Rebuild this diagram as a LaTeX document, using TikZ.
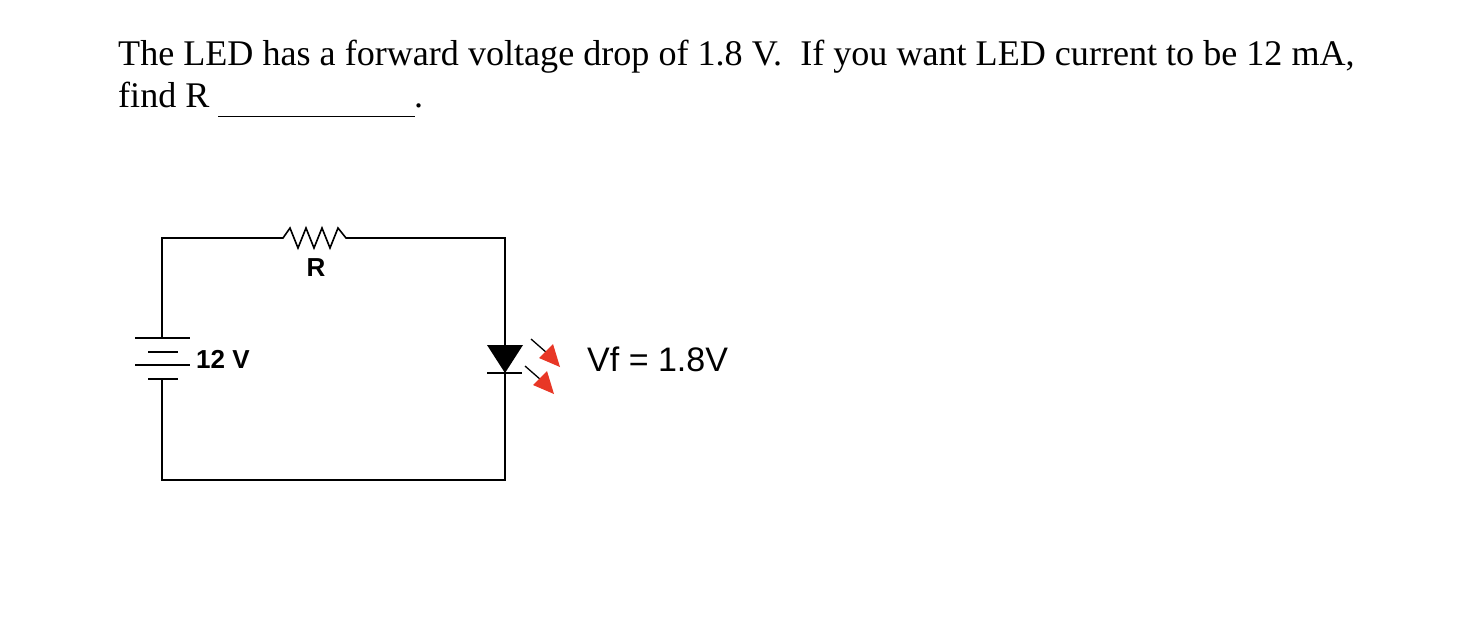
\documentclass[tikz,border=0pt]{standalone}
\usepackage{fontspec}
\setmainfont{Liberation Serif}
\newfontfamily\sansf{Liberation Sans}
\begin{document}
\begin{tikzpicture}[x=1pt,y=-1pt,
  wire/.style={line width=1.6pt},
  lbl/.style={font=\sansf\bfseries\fontsize{26}{28}\selectfont,inner sep=0pt},
  ttl/.style={font=\fontsize{36.1}{40}\selectfont,inner sep=0pt,anchor=base west},
  redhead/.style={fill={rgb,255:red,232;green,55;blue,38},draw=none}]
\useasboundingbox (0,0) rectangle (1480,630);
\node[ttl] (t1) at (118,65) {The LED has a forward voltage drop of 1.8 V.\ \ If you want LED current to be 12 mA,};
\node[ttl] (t2) at (118,107) {find R};
\coordinate (u1) at (218,116); \coordinate (u2) at (415,116);
\draw[line width=1pt] (u1) -- (u2);
\node[ttl] (dot) at (414,107) {.};
% corners
\coordinate (tl) at (162,238); \coordinate (tr) at (505,238);
\coordinate (bl) at (162,480); \coordinate (br) at (505,480);
\coordinate (r1) at (283,238); \coordinate (r2) at (346,238);
\draw[wire] (162,338) -- (tl) -- (r1)
  -- (290,228) -- (298,248) -- (306,228) -- (314,248) -- (322,228) -- (330,248) -- (338,228) -- (r2) -- (tr) -- (505,345);
\draw[wire] (162,379) -- (bl) -- (br) -- (505,373);
% battery
\draw[wire] (135,338) -- (190,338);
\draw[wire] (148,352) -- (178,352);
\draw[wire] (135,365) -- (190,365);
\draw[wire] (148,379) -- (178,379);
\node[lbl,anchor=west] (v12) at (196,359) {12 V};
\node[lbl] (rl) at (316,268) {R};
% LED
\fill (487,345) -- (523,345) -- (505,373) -- cycle;
\draw[wire] (487,373) -- (522,373);
\draw[line width=1.3pt] (531,339) -- (547,353);
\fill[redhead] (560,367) -- (539,358) -- (553,344) -- cycle;
\draw[line width=1.3pt] (525,366) -- (541,380);
\fill[redhead] (554,394) -- (533,385) -- (547,371) -- cycle;
\node[font=\sansf\fontsize{34}{38}\selectfont,inner sep=0pt,anchor=west] (vf) at (587,359) {Vf = 1.8V};
\end{tikzpicture}
\end{document}
